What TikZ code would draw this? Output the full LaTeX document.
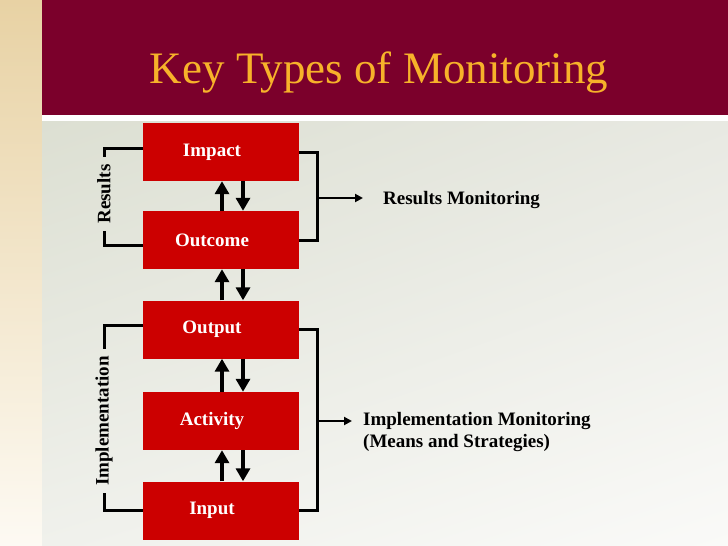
\documentclass[tikz,border=0pt]{standalone}
\usepackage{fontspec}
\setmainfont{Liberation Serif}
\usepackage{tikz}
\usetikzlibrary{positioning, arrows.meta, shadings}

\definecolor{bannerred}{HTML}{7B002B}
\definecolor{titlegold}{HTML}{F7B22A}
\definecolor{boxred}{HTML}{CC0000}
\definecolor{stripTop}{HTML}{E8D2A4}
\definecolor{stripBottom}{HTML}{FDFAF3}
\definecolor{paperUL}{HTML}{DCDFD2}
\definecolor{paperUR}{HTML}{E8E9E2}
\definecolor{paperLL}{HTML}{F0F1EC}
\definecolor{paperLR}{HTML}{FAFAF8}

\begin{document}
\begin{tikzpicture}[x=1pt, y=-1pt]
    % Styles
    \tikzstyle{stage} = [rectangle, fill=boxred, text=white, minimum width=156pt, minimum height=58pt,
        font=\fontsize{19}{21}\selectfont\bfseries, execute at end node={\hspace*{18pt}}]
    \tikzstyle{side label} = [rotate=90, inner xsep=7pt, inner ysep=0pt, font=\fontsize{19}{21}\selectfont\bfseries]
    \tikzstyle{kind label} = [inner sep=0pt, align=left, font=\fontsize{19}{22}\selectfont\bfseries]
    \tikzstyle{flow} = [-{Triangle[length=13pt, width=14pt]}, line width=4pt]
    \tikzstyle{bracket} = [line width=3pt]
    \tikzstyle{pointer} = [-{Triangle[length=8pt, width=8pt]}, line width=2.5pt]

    % Background
    \useasboundingbox (0,0) rectangle (728,546);
    \shade[top color=stripTop, bottom color=stripBottom] (0,0) rectangle (42,546);
    \shade[upper left=paperUL, upper right=paperUR, lower left=paperLL, lower right=paperLR]
        (42,121) rectangle (728,546);
    \fill[bannerred] (42,0) rectangle (728,115);
    \fill[white] (42,115) rectangle (728,121);
    \node[anchor=base, text=titlegold, font=\fontsize{45}{50}\selectfont] (title) at (379,83) {Key Types of Monitoring};

    % Nodes
    \node[stage] (impact) at (221,152) {Impact};
    \node[stage] (outcome) at (221,240) {Outcome};
    \node[stage] (output) at (221,329.5) {Output};
    \node[stage] (activity) at (221,421) {Activity};
    \node[stage] (input) at (221,510.5) {Input};

    \node[side label] (results) at (104,194) {Results};
    \node[side label] (implementation) at (104,421) {Implementation};

    \coordinate (resjoin) at (317,198);
    \coordinate (impjoin) at (317,421);
    \node[kind label, anchor=base west] (resmon) at (383,204) {Results Monitoring};
    \node[kind label, anchor=north west] (impmon) at (363,412) {Implementation Monitoring\\(Means and Strategies)};

    % Edges
    \foreach \upper/\lower in {impact/outcome, outcome/output, output/activity, activity/input} {
        \draw[flow] ([xshift=1pt]\lower.north) -- ([xshift=1pt]\upper.south);
        \draw[flow] ([xshift=22pt]\upper.south) -- ([xshift=22pt]\lower.north);
    }

    \draw[bracket] ([yshift=4pt]impact.west) -| (results.east);
    \draw[bracket] ([yshift=-5pt]outcome.west) -| (results.west);
    \draw[bracket] ([yshift=4pt]output.west) -| (implementation.east);
    \draw[bracket] (input.west) -| (implementation.west);

    \draw[bracket] (impact.east) -| (resjoin) |- (outcome.east);
    \draw[bracket] (output.east) -| (impjoin) |- (input.east);
    \draw[pointer, shorten >=20pt] (resjoin) -- (resmon.west |- resjoin);
    \draw[pointer, shorten >=11pt] (impjoin) -- (impmon.west |- impjoin);
\end{tikzpicture}
\end{document}
